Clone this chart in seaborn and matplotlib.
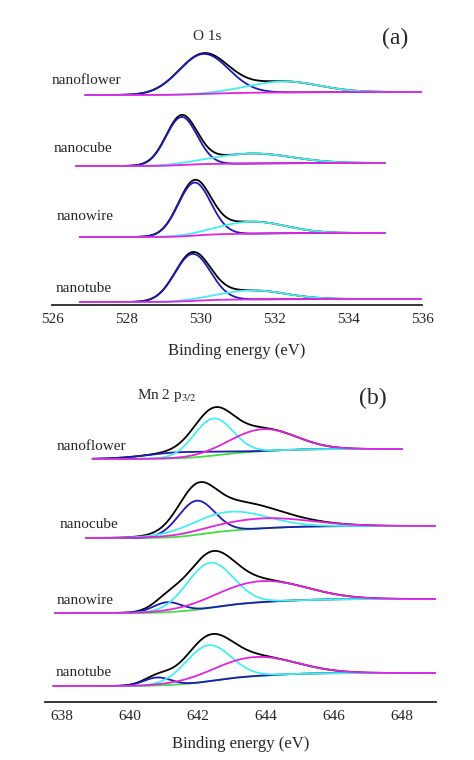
########################################################
# Required Python Packages
########################################################
import numpy as np
import pandas as pd
import seaborn as sns
import matplotlib.pyplot as plt
from matplotlib.ticker import MultipleLocator

########################################################
# Data (intensities in arb. units)
########################################################
samples = ["nanoflower", "nanocube", "nanowire", "nanotube"]

# (a) O 1s
o1s_start = [526.9, 526.65, 526.75, 526.75]
o1s_end = [536.1, 535.0, 535.0, 536.0]
o1s_low = [210, 139, 68, 3]
o1s_high = [213, 142, 72, 6]
o1s_main_center = [530.1, 529.5, 529.85, 529.8]
o1s_main_height = [40, 48, 53, 47]
o1s_main_sigma = [0.67, 0.42, 0.44, 0.48]
o1s_sub_center = [532.25, 531.4, 531.4, 531.4]
o1s_sub_height = [11, 10, 12, 9]
o1s_sub_sigma = [0.95, 1.07, 0.9, 0.9]

# (b) Mn 2p3/2
mn_start = [638.9, 638.7, 637.8, 637.75]
mn_end = [648.0, 649.0, 649.0, 649.0]
mn_low = [243, 164, 89, 16]
mn_high = [253, 176, 103, 29]
mn_blue_center = [641.5, 641.95, 641.1, 640.8]
mn_blue_height = [6, 34, 10, 8]
mn_blue_sigma = [1.0, 0.53, 0.42, 0.4]
mn_cyan_center = [642.45, 642.9, 642.35, 642.3]
mn_cyan_height = [37, 19, 45, 36]
mn_cyan_sigma = [0.57, 1.1, 0.68, 0.66]
mn_mag_center = [643.9, 643.8, 643.85, 643.65]
mn_mag_height = [22, 10, 21, 19]
mn_mag_sigma = [0.96, 1.4, 1.3, 1.2]

BLACK = "#000000"
BLUE = "#1c1cb4"
CYAN = "#45eef2"
MAGENTA = "#e024e0"
GREEN = "#44dd44"
SERIF = ["Liberation Serif", "DejaVu Serif"]


########################################################
# Peak helpers
########################################################
def Gauss(x, c, h, s):
    return h * np.exp(-(x - c) ** 2 / (2 * s ** 2))


def Shirley(x, peaks, low, high):
    # one step Shirley background from the summed peak area
    total = np.sum(peaks, axis=0)
    cum = np.concatenate([[0], np.cumsum((total[1:] + total[:-1]) / 2 * np.diff(x))])
    return low + (high - low) * cum / cum[-1]


def DrawCurves(ax, x, curves):
    for y, color in curves:
        df = pd.DataFrame({"x": x, "y": y})
        sns.lineplot(data=df, x="x", y="y", ax=ax, color=color, lw=1.3,
                     estimator=None, sort=False)


def StyleAxis(ax, xmin, xmax, ymax, label, labelpad):
    ax.set_xlim(xmin, xmax)
    ax.set_ylim(0, ymax)
    for side in ["left", "right", "top"]:
        ax.spines[side].set_visible(False)
    ax.spines["bottom"].set_linewidth(1.3)
    ax.set_yticks([])
    ax.set_ylabel("")
    ax.xaxis.set_major_locator(MultipleLocator(2))
    ax.xaxis.set_minor_locator(MultipleLocator(1))
    ax.tick_params(axis="x", which="major", direction="inout", length=6, width=1.1,
                   labelsize=11, pad=3)
    ax.tick_params(axis="x", which="minor", direction="in", length=3, width=1.0)
    ax.set_xlabel(label, fontsize=12, labelpad=labelpad)
    for t in ax.get_xticklabels():
        t.set_family(SERIF)


########################################################
# Main Execution
########################################################
def main():
    sns.set_style("white")
    plt.rcParams["font.family"] = SERIF
    plt.rcParams["mathtext.fontset"] = "stix"

    fig = plt.figure(figsize=(4.74, 7.60), dpi=100)
    ax_a = fig.add_axes([52 / 474, (760 - 305) / 760, 370 / 474, 275 / 760])
    ax_b = fig.add_axes([45 / 474, (760 - 702) / 760, 391 / 474, 322 / 760])

    # panel (a)
    for i in range(len(samples)):
        x = np.linspace(o1s_start[i], o1s_end[i], 500)
        p1 = Gauss(x, o1s_main_center[i], o1s_main_height[i], o1s_main_sigma[i])
        p2 = Gauss(x, o1s_sub_center[i], o1s_sub_height[i], o1s_sub_sigma[i])
        bg = Shirley(x, [p1, p2], o1s_low[i], o1s_high[i])
        DrawCurves(ax_a, x, [(bg + p1 + p2, BLACK), (bg + p1, BLUE),
                             (bg + p2, CYAN), (bg, MAGENTA)])

    # panel (b)
    for i in range(len(samples)):
        x = np.linspace(mn_start[i], mn_end[i], 500)
        pb = Gauss(x, mn_blue_center[i], mn_blue_height[i], mn_blue_sigma[i])
        pc = Gauss(x, mn_cyan_center[i], mn_cyan_height[i], mn_cyan_sigma[i])
        pm = Gauss(x, mn_mag_center[i], mn_mag_height[i], mn_mag_sigma[i])
        bg = Shirley(x, [pb, pc, pm], mn_low[i], mn_high[i])
        DrawCurves(ax_b, x, [(bg + pb + pc + pm, BLACK), (bg, GREEN),
                             (bg + pb, BLUE), (bg + pc, CYAN), (bg + pm, MAGENTA)])

    StyleAxis(ax_a, 526, 536, 275, "Binding energy (eV)", 12)
    StyleAxis(ax_b, 637.5, 649, 322, "Binding energy (eV)", 9)

    # sample names and titles
    a_label_x = [526.0, 526.03, 526.13, 526.1]
    a_label_y = [224, 156, 88, 17]
    b_label_x = [637.85, 637.94, 637.85, 637.82]
    b_label_y = [255, 178, 102, 29]
    for i, name in enumerate(samples):
        ax_a.text(a_label_x[i], a_label_y[i], name, fontsize=11, ha="left", va="center")
        ax_b.text(b_label_x[i], b_label_y[i], name, fontsize=11, ha="left", va="center")

    ax_a.text(530.2, 269, "O 1s", fontsize=11, ha="center", va="center")
    ax_a.text(535.27, 267, "(a)", fontsize=17, ha="center", va="center")
    ax_b.text(640.2, 307, "Mn 2 p$_{3/2}$", fontsize=11, ha="left", va="center")
    ax_b.text(647.15, 304, "(b)", fontsize=17, ha="center", va="center")

    fig.savefig("out.png", dpi=100)


if __name__ == "__main__":
    main()
